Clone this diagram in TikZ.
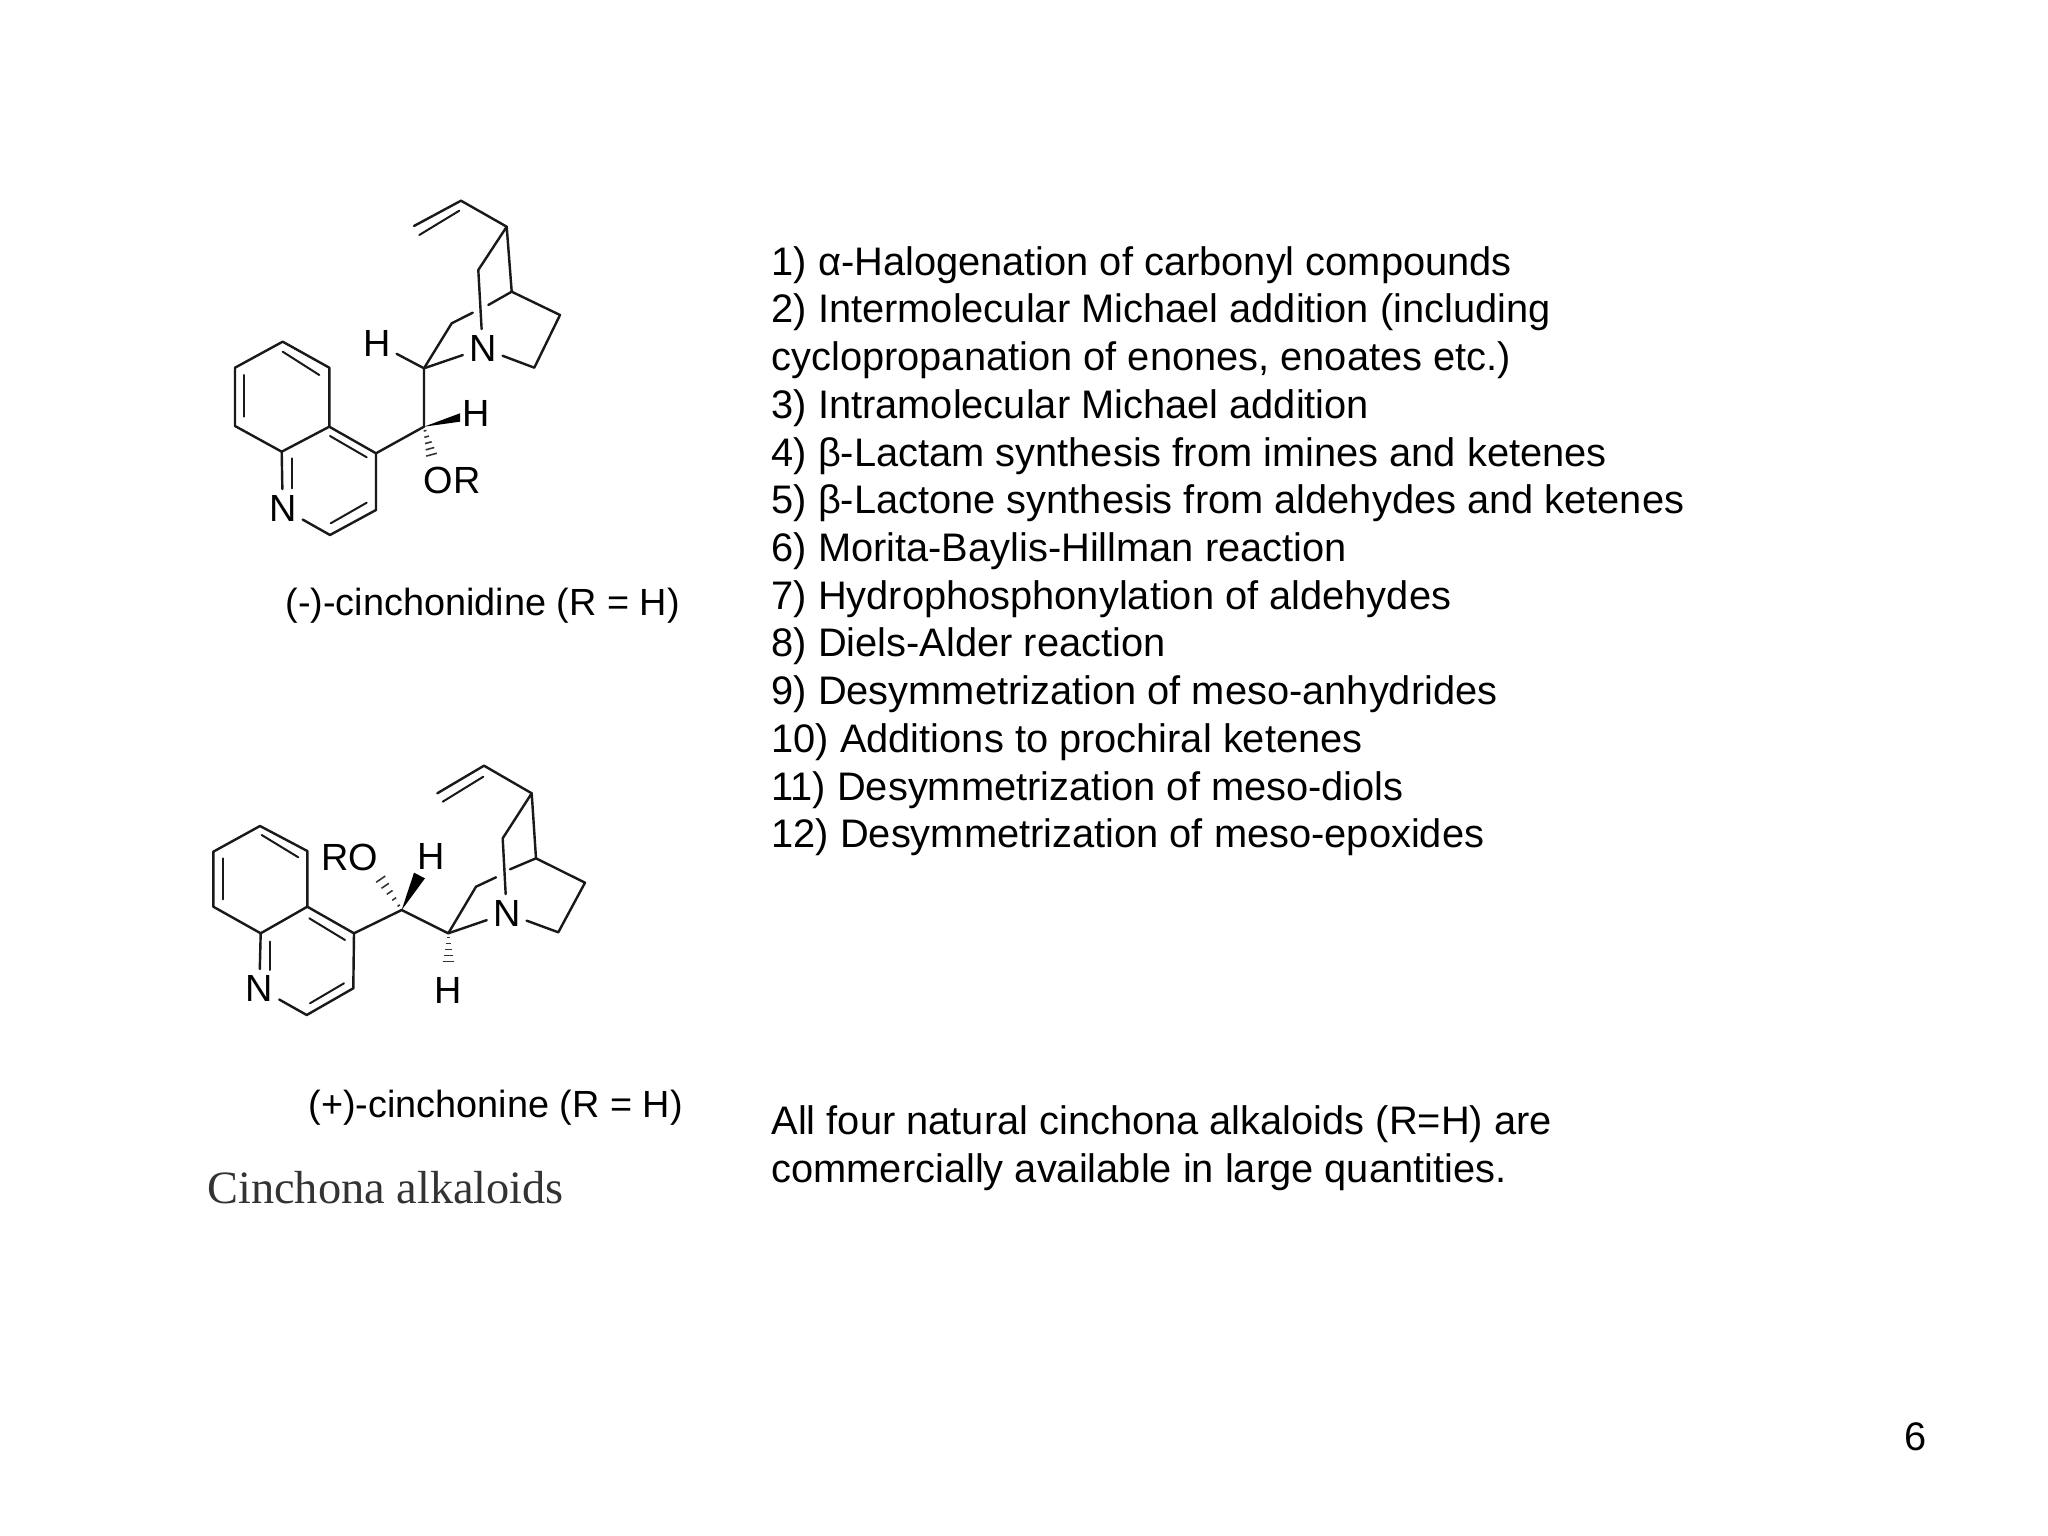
\documentclass[tikz,border=0pt]{standalone}
\usepackage{fontspec}
\setmainfont{Liberation Sans}
\newfontfamily\capserif{Liberation Serif}
\usetikzlibrary{calc,positioning}
\newcommand{\hashbond}[2]{
  \foreach \t in {0.12,0.3,0.48,0.66,0.84,1.0}{
    \pgfmathsetmacro\hw{0.25+2.0*\t}
    \draw[hashtick] ($(#1)!\t!(#2)!\hw pt!90:(#2)$) -- ($(#1)!\t!(#2)!\hw pt!-90:(#2)$);
  }
}
\begin{document}
\begin{tikzpicture}[x=0.3515625pt,y=-0.3515625pt,
    bond/.style={line width=0.85pt,line join=round,line cap=round,black!90},
    inner/.style={line width=0.7pt,line cap=round,black!90},
    wedge/.style={fill=black},
    hashtick/.style={line width=0.55pt,black!80},
    atom/.style={inner sep=2pt,font=\fontsize{13.3}{13.3}\selectfont,text=black},
    caption/.style={inner sep=0pt,anchor=base west,font=\fontsize{13.3}{15}\selectfont,text=black},
    listtext/.style={inner sep=0pt,anchor=north west,align=left,font=\fontsize{14}{16.78}\selectfont}]
  \useasboundingbox (0,0) rectangle (2048,1536);

  % upper molecule
  \coordinate (a1) at (282.7,341.7);
  \coordinate (a2) at (329.3,367.7);
  \coordinate (a3) at (329.3,426.7);
  \coordinate (a4) at (281.7,451.7);
  \coordinate (a5) at (235,426);
  \coordinate (a6) at (235,367.7);
  \coordinate (a7) at (330,535);
  \coordinate (a8) at (376,510);
  \coordinate (a9) at (376,453.3);
  \coordinate (a10) at (424,426.7);
  \coordinate (a11) at (424,368.3);
  \coordinate (a12) at (451.7,323.3);
  \coordinate (a13) at (472.7,312.7);
  \coordinate (a14) at (478.3,270);
  \coordinate (a15) at (506.7,226.7);
  \coordinate (a16) at (511.7,291.7);
  \coordinate (a17) at (488.3,305);
  \coordinate (a18) at (560,315);
  \coordinate (a19) at (534.3,367.7);
  \coordinate (a20) at (461,200.7);
  \coordinate (a21) at (414,226);
  \coordinate (a22) at (459.3,210.7);
  \coordinate (a23) at (419.3,235);
  \coordinate (a24) at (460,413.3);
  \coordinate (a25) at (460,421.7);
  \coordinate (a26) at (433,460);
  \coordinate (a31) at (282.7,351.7);
  \coordinate (a32) at (319.3,375);
  \coordinate (a33) at (244.3,375);
  \coordinate (a34) at (244.3,416.7);
  \coordinate (a35) at (330,436);
  \coordinate (a36) at (366.7,457.3);
  \coordinate (a37) at (291.7,458.3);
  \coordinate (a38) at (291.7,488.3);
  \coordinate (a39) at (330.7,523.3);
  \coordinate (a40) at (366.7,502.7);
  \node[atom] (aNq) at (282.7,508.3) {N};
  \node[atom] (aN) at (482.7,348.3) {N};
  \node[atom] (aHl) at (376.7,343.3) {H};
  \node[atom] (aHr) at (476,413.3) {H};
  \node[atom] (aOR) at (452,480) {OR};
  \draw[bond] (a4) -- (a5) -- (a6) -- (a1) -- (a2) -- (a3) -- (a4) -- (aNq);
  \draw[bond] (aNq) -- (a7) -- (a8) -- (a9) -- (a3);
  \draw[bond] (a9) -- (a10) -- (a11) -- (a12) -- (a13);
  \draw[bond] (aHl) -- (a11) -- (aN);
  \draw[bond] (aN) -- (a14) -- (a15) -- (a16) -- (a18) -- (a19) -- (aN);
  \draw[bond] (a16) -- (a17);
  \draw[bond] (a15) -- (a20) -- (a21);
  \draw[inner] (a22) -- (a23);
  \draw[inner] (a31) -- (a32);
  \draw[inner] (a33) -- (a34);
  \draw[inner] (a35) -- (a36);
  \draw[inner] (a37) -- (a38);
  \draw[inner] (a39) -- (a40);
  \fill[wedge] (a10) -- (a24) -- (a25) -- cycle;
  \hashbond{a10}{a26}
  \node[caption] (aname) at (285,616) {(-)-cinchonidine (R = H)};

  % lower molecule
  \coordinate (b1) at (260,826);
  \coordinate (b2) at (307.3,851);
  \coordinate (b3) at (307.3,906.7);
  \coordinate (b4) at (260.7,933.3);
  \coordinate (b5) at (213.3,906.7);
  \coordinate (b6) at (213.3,851.7);
  \coordinate (b7) at (306.7,1015);
  \coordinate (b8) at (353.3,988.3);
  \coordinate (b9) at (354,933.3);
  \coordinate (b10) at (401.7,910);
  \coordinate (b11) at (448.3,933.3);
  \coordinate (b12) at (476,886.7);
  \coordinate (b13) at (496,877.3);
  \coordinate (b14) at (502.7,838.3);
  \coordinate (b15) at (531.7,793.3);
  \coordinate (b16) at (536,858.3);
  \coordinate (b17) at (510,869.3);
  \coordinate (b18) at (585,882.7);
  \coordinate (b19) at (558.3,932.3);
  \coordinate (b20) at (484,765.7);
  \coordinate (b21) at (437.3,793.3);
  \coordinate (b22) at (483.3,776.7);
  \coordinate (b23) at (442.7,801.7);
  \coordinate (b24) at (414,872.7);
  \coordinate (b25) at (425,878.3);
  \coordinate (b26) at (376.7,873.3);
  \coordinate (b27) at (448.3,966.7);
  \coordinate (b31) at (261.7,835);
  \coordinate (b32) at (298.3,857.3);
  \coordinate (b33) at (223.3,858.3);
  \coordinate (b34) at (223.3,899.3);
  \coordinate (b35) at (309.3,918.3);
  \coordinate (b36) at (345,940);
  \coordinate (b37) at (270,941.7);
  \coordinate (b38) at (270,970);
  \coordinate (b39) at (310,1003.3);
  \coordinate (b40) at (344,983.3);
  \node[atom] (bNq) at (259.3,988.3) {N};
  \node[atom] (bN) at (506.7,913.3) {N};
  \node[atom] (bHd) at (448.3,990) {H};
  \node[atom] (bHu) at (430.7,856) {H};
  \node[atom] (bRO) at (350,857.3) {RO};
  \draw[bond] (b4) -- (b5) -- (b6) -- (b1) -- (b2) -- (b3) -- (b4) -- (bNq);
  \draw[bond] (bNq) -- (b7) -- (b8) -- (b9) -- (b3);
  \draw[bond] (b9) -- (b10) -- (b11) -- (b12) -- (b13);
  \draw[bond] (b11) -- (bN);
  \draw[bond] (bN) -- (b14) -- (b15) -- (b16) -- (b18) -- (b19) -- (bN);
  \draw[bond] (b16) -- (b17);
  \draw[bond] (b15) -- (b20) -- (b21);
  \draw[inner] (b22) -- (b23);
  \draw[inner] (b31) -- (b32);
  \draw[inner] (b33) -- (b34);
  \draw[inner] (b35) -- (b36);
  \draw[inner] (b37) -- (b38);
  \draw[inner] (b39) -- (b40);
  \fill[wedge] (b10) -- (b24) -- (b25) -- cycle;
  \hashbond{b10}{b26}
  \hashbond{b11}{b27}
  \node[caption] (bname) at (308,1117.5) {(+)-cinchonine (R = H)};
  \node[inner sep=0pt,anchor=base west,font=\capserif\fontsize{16.3}{18}\selectfont,text=black!80] (family) at (206.7,1203) {Cinchona alkaloids};

  % text on the right
  \node[listtext] (reactions) at (771,245.7) {1) α-Halogenation of carbonyl compounds\\
    2) Intermolecular Michael addition (including\\
    cyclopropanation of enones, enoates etc.)\\
    3) Intramolecular Michael addition\\
    4) β-Lactam synthesis from imines and ketenes\\
    5) β-Lactone synthesis from aldehydes and ketenes\\
    6) Morita-Baylis-Hillman reaction\\
    7) Hydrophosphonylation of aldehydes\\
    8) Diels-Alder reaction\\
    9) Desymmetrization of meso-anhydrides\\
    10) Additions to prochiral ketenes\\
    11) Desymmetrization of meso-diols\\
    12) Desymmetrization of meso-epoxides};
  \node[listtext] (note) at (771,1105) {All four natural cinchona alkaloids (R=H) are\\
    commercially available in large quantities.};
  \node[listtext,anchor=base west] (pagenum) at (1904,1450) {6};
\end{tikzpicture}
\end{document}
